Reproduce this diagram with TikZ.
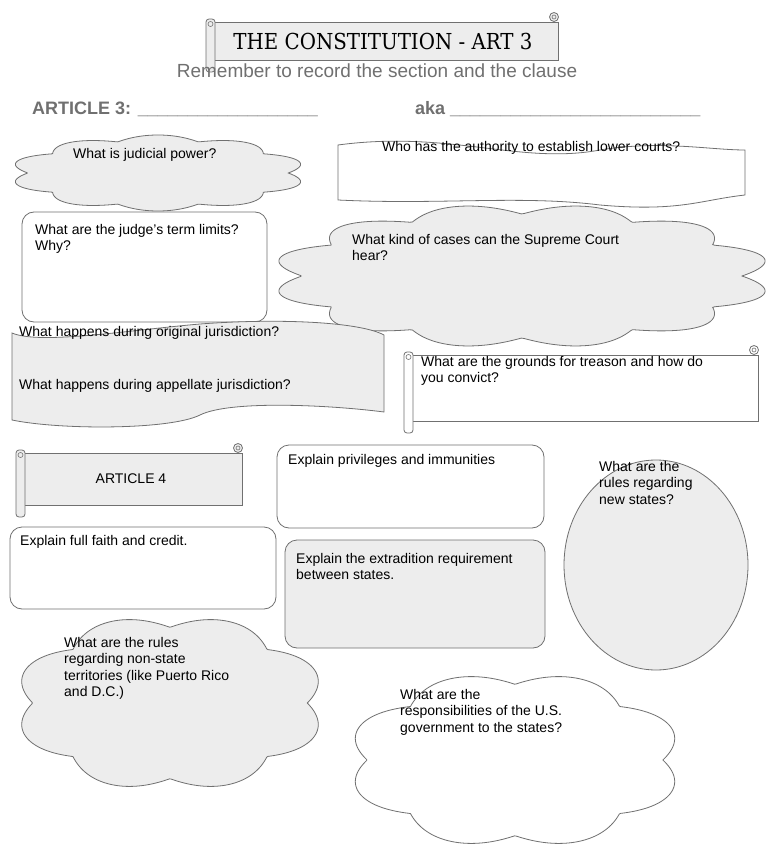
\documentclass[tikz,border=0pt]{standalone}
\usepackage{fontspec}
\setmainfont{Liberation Sans}
\newfontfamily\titlefont{DejaVu Serif Condensed}
\usetikzlibrary{shapes.geometric}
\definecolor{lg}{HTML}{EDEDED}
\definecolor{ln}{HTML}{707070}
\tikzset{
  q/.style={anchor=north west,align=left,font=\fontsize{14}{16.5}\selectfont,inner sep=0pt},
  shp/.style={draw=ln,line width=0.8pt},
  rbox/.style={shp,rounded corners=12pt}
}
% cx cy a b halfpuffs fill
\newcommand{\mycloud}[6]{%
  \filldraw[#6,draw=ln,line width=0.8pt] plot[domain=0:360,samples=500] ({#1+#3*cos(\x)*(0.88+0.12*abs(sin(#5*\x)))},{#2+#4*sin(\x)*(0.86+0.14*abs(sin(#5*\x)))}) -- cycle;
}
\newcommand{\scrollbox}[5]{% x1 y1 x2 y2 fill
  \fill[#5,draw=ln,line width=0.8pt] (#1,#2) rectangle (#3,#4);
  \filldraw[#5,draw=ln,line width=0.8pt,rounded corners=3pt] (#1,#2-3) rectangle (#1+9,#4+12);
  \draw[ln,line width=0.6pt] (#1+4.5,#2+2) circle (2.5pt);
  \filldraw[#5,draw=ln,line width=0.8pt] (#3-4,#2-5) circle (4.5pt);
  \draw[ln,line width=0.6pt] (#3-4,#2-5) circle (2pt);
}
\begin{document}
\begin{tikzpicture}[x=1pt,y=-1pt]
\useasboundingbox (0,0) rectangle (768,866);
\fill[white] (0,0) rectangle (768,866);
% title
\scrollbox{206}{22}{558}{60}{lg}
\node (title) at (383,41) {\titlefont\fontsize{22}{24}\selectfont THE CONSTITUTION - ART 3};
\node[text=ln] (sub) at (377,71) {\fontsize{19}{21}\selectfont Remember to record the section and the clause};
\node[anchor=west,text=ln,inner sep=0pt] (art3) at (32,109) {\fontsize{18}{20}\selectfont\bfseries ARTICLE 3: \_\_\_\_\_\_\_\_\_\_\_\_\_\_\_\_\_\_};
\node[anchor=west,text=ln,inner sep=0pt] (aka) at (415,109) {\fontsize{18}{20}\selectfont\bfseries aka \_\_\_\_\_\_\_\_\_\_\_\_\_\_\_\_\_\_\_\_\_\_\_\_\_};
% cloud 1
\mycloud{158}{173}{148}{38}{5}{lg}
\node[q] (t1) at (73,148) {What is judicial power?};
% wave banner 1
\filldraw[white,draw=ln,line width=0.8pt] (338,145) .. controls (450,130) and (520,165) .. (600,150) .. controls (660,140) and (710,150) .. (745,150) -- (745,195) .. controls (700,200) and (680,212) .. (600,205) .. controls (520,195) and (440,205) .. (338,200) -- cycle;
\node[q] (t2) at (382,141) {Who has the authority to establish lower courts?};
% judge box
\node[rbox,fill=white,minimum width=245pt,minimum height=110pt] (b1) at (144.5,267) {};
\node[q] (t3) at (35,224) {What are the judge’s term limits?\\Why?};
% cloud 2
\mycloud{522}{276}{250}{72}{6}{lg}
\node[q] (t4) at (352,234) {What kind of cases can the Supreme Court\\hear?};
% wave banner 2
\filldraw[lg,draw=ln,line width=0.8pt] (12,333) .. controls (40,345) and (130,330) .. (200,324) .. controls (280,318) and (360,322) .. (384,335) -- (384,412) .. controls (330,405) and (230,400) .. (200,415) .. controls (170,430) and (60,430) .. (12,420) -- cycle;
\node[q] (t5) at (19,326) {What happens during original jurisdiction?};
\node[q] (t6) at (19,379) {What happens during appellate jurisdiction?};
% treason scroll
\scrollbox{404}{355}{758}{421}{white}
\node[q] (t7) at (421,356) {What are the grounds for treason and how do\\you convict?};
% article 4 scroll
\scrollbox{16}{453}{242}{505}{lg}
\node (t8) at (131,479) {\fontsize{14}{16}\selectfont ARTICLE 4};
% privileges
\node[rbox,fill=white,minimum width=267pt,minimum height=83pt] (b2) at (410.5,486.5) {};
\node[q] (t9) at (288,454) {Explain privileges and immunities};
% ellipse
\node[shp,ellipse,fill=lg,minimum width=184pt,minimum height=210pt] (e1) at (656,565) {};
\node[q] (t10) at (599,461) {What are the\\rules regarding\\new states?};
% full faith
\node[rbox,fill=white,minimum width=266pt,minimum height=82pt] (b3) at (143,568) {};
\node[q] (t11) at (20,535) {Explain full faith and credit.};
% extradition
\node[rbox,fill=lg,minimum width=260pt,minimum height=108pt] (b4) at (415,594) {};
\node[q] (t12) at (296,553) {Explain the extradition requirement\\between states.};
% cloud 3
\mycloud{170}{703}{156}{88}{4}{lg}
\node[q] (t13) at (64,637) {What are the rules\\regarding non-state\\territories (like Puerto Rico\\and D.C.)};
% cloud 4
\mycloud{515}{760}{168}{88}{4}{white}
\node[q] (t14) at (400,689) {What are the\\responsibilities of the U.S.\\government to the states?};
\end{tikzpicture}
\end{document}
